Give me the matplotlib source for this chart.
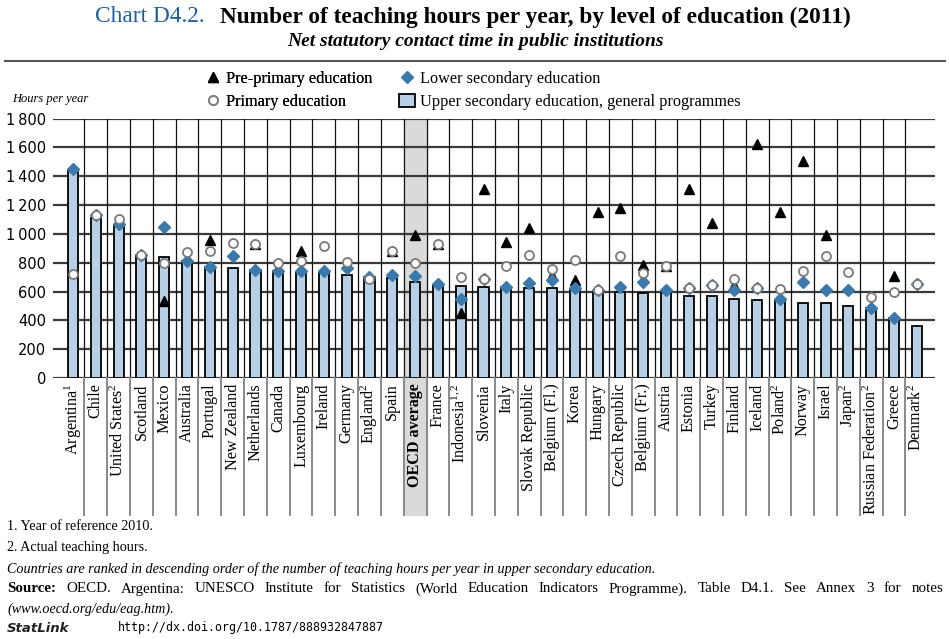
import numpy as np
import matplotlib
matplotlib.use("Agg")
import matplotlib.pyplot as plt
from matplotlib.lines import Line2D
from matplotlib.patches import Patch

plt.rcParams['font.family'] = ['Liberation Serif', 'DejaVu Serif']
plt.rcParams['mathtext.fontset'] = 'custom'
plt.rcParams['mathtext.rm'] = 'Liberation Serif'
plt.rcParams['mathtext.it'] = 'Liberation Serif:italic'
plt.rcParams['mathtext.bf'] = 'Liberation Serif:bold'

# data (hours per year)
countries = ['Argentina$^{\\mathrm{1}}$', 'Chile', 'United States$^{\\mathrm{2}}$', 'Scotland', 'Mexico',
             'Australia', 'Portugal', 'New Zealand', 'Netherlands', 'Canada', 'Luxembourg',
             'Ireland', 'Germany', 'England$^{\\mathrm{2}}$', 'Spain', 'OECD average', 'France',
             'Indonesia$^{\\mathrm{1,2}}$', 'Slovenia', 'Italy', 'Slovak Republic', 'Belgium (Fl.)',
             'Korea', 'Hungary', 'Czech Republic', 'Belgium (Fr.)', 'Austria', 'Estonia',
             'Turkey', 'Finland', 'Iceland', 'Poland$^{\\mathrm{2}}$', 'Norway', 'Israel',
             'Japan$^{\\mathrm{2}}$', 'Russian Federation$^{\\mathrm{2}}$', 'Greece', 'Denmark$^{\\mathrm{2}}$']
nan = np.nan
pre_primary = [nan, nan, nan, nan, 532, nan, 960, nan, 930, nan, 880, nan, nan, nan, 880, 995,
               930, 450, 1312, 947, 1044, 713, 680, 1152, 1183, 787, 780, 1314, 1076, 643,
               1627, 1150, 1506, 995, nan, nan, 706, nan]
primary = [724, 1129, 1100, 855, 800, 872, 882, 935, 930, 800, 812, 916, 805, 688, 880, 795,
           930, 698, 690, 775, 851, 759, 817, 614, 845, 728, 780, 623, 643, 690, 622, 620,
           745, 849, 736, 565, 594, 655]
lower_sec = [1452, 1129, 1068, 855, 1050, 812, 772, 848, 750, 745, 740, 740, 760, 700, 713, 711,
             652, 551, 690, 632, 659, 678, 625, 614, 632, 666, 613, 623, 643, 609, 622, 551,
             665, 611, 609, 486, 416, 655]
upper_sec = [1440, 1110, 1060, 855, 843, 810, 770, 760, 750, 744, 739, 735, 713, 704, 693, 664,
             648, 636, 633, 630, 626, 624, 616, 601, 597, 592, 589, 568, 567, 550, 544, 540,
             523, 521, 500, 483, 415, 364]
y_ticks = [0, 200, 400, 600, 800, 1000, 1200, 1400, 1600, 1800]
y_tick_labels = ['0', '200', '400', '600', '800', '1\u2009000', '1\u2009200', '1\u2009400',
                 '1\u2009600', '1\u2009800']

bar_col = '#b7d0e6'
dia_col = '#3b78ab'
n = len(countries)
x = np.arange(n)
oecd = 15

fig = plt.figure(figsize=(9.49, 6.39), dpi=100)
ax = fig.add_axes([53/949, 1-378/639, 882/949, 259.4/639])
ax.set_xlim(-0.88, 37.8)
ax.set_ylim(0, 1800)

below = -0.527
# shading for the OECD average column
ax.axvspan(oecd-0.5, oecd+0.5, ymin=below, ymax=1, color='#dadada', zorder=0, clip_on=False)

for yy in y_ticks:
    ax.axhline(yy, color='#3a3a3a', lw=1.6, zorder=1)
for i in range(n-1):
    ax.axvline(i+0.5, color='#111111', lw=0.9, zorder=1)
    ax.axvline(i+0.5, ymin=below, ymax=0, color='#8a8a8a', lw=1.4, zorder=1, clip_on=False)

ax.bar(x, upper_sec, width=0.44, color=bar_col, edgecolor='black', lw=1.3, zorder=2)
ax.plot(x, pre_primary, ls='none', marker='^', ms=7, color='black', zorder=3)
ax.plot(x, lower_sec, ls='none', marker='D', ms=6.5, color=dia_col, mec=dia_col, zorder=4)
ax.plot(x, primary, ls='none', marker='o', ms=6.5, mfc='white', mec='#7a7a7a', mew=1.3, zorder=5)

for s in ax.spines.values():
    s.set_visible(False)
ax.set_yticks(y_ticks)
ax.set_yticklabels(y_tick_labels, fontsize=10.5, family='DejaVu Sans')
ax.tick_params(axis='y', length=0, pad=5)
ax.set_xticks(x)
ax.set_xticklabels(countries, rotation=90, fontsize=11.6)
ax.tick_params(axis='x', length=0, pad=4)
ax.get_xticklabels()[oecd].set_fontweight('bold')

# titles
fig.text(95/949, 1-17/639, 'Chart D4.2.', color='#1f5f9e', fontsize=16.8, va='center')
fig.text(220/949, 1-17/639, 'Number of teaching hours per year, by level of education (2011)',
         fontsize=16.8, fontweight='bold', va='center')
fig.text(475/949, 1-42/639, 'Net statutory contact time in public institutions',
         fontsize=14, fontweight='bold', style='italic', ha='center', va='center')
fig.add_artist(Line2D([5/949, 945/949], [1-61/639, 1-61/639], color='#555555', lw=1.5))

# legend
h1 = [Line2D([], [], ls='none', marker='^', ms=7, color='black'),
      Line2D([], [], ls='none', marker='o', ms=6.5, mfc='white', mec='#7a7a7a', mew=1.3)]
h2 = [Line2D([], [], ls='none', marker='D', ms=6.5, color=dia_col),
      Patch(facecolor=bar_col, edgecolor='black', lw=1.3)]
leg1 = fig.legend(h1, ['Pre-primary education', 'Primary education'], loc='upper left',
                  bbox_to_anchor=(205/949, 1-71/639), frameon=False, fontsize=11.7,
                  handlelength=1.0, handletextpad=0.3, labelspacing=0.4, borderaxespad=0, borderpad=0)
leg2 = fig.legend(h2, ['Lower secondary education', 'Upper secondary education, general programmes'],
                  loc='upper left', bbox_to_anchor=(399/949, 1-71/639), frameon=False, fontsize=11.7,
                  handlelength=1.0, handleheight=0.9, handletextpad=0.3, labelspacing=0.4,
                  borderaxespad=0, borderpad=0)
fig.add_artist(leg1)
fig.text(12/949, 1-99/639, 'Hours per year', fontsize=9, style='italic', va='center')

# notes
fs = 10.2
fig.text(7/949, 1-527/639, '1. Year of reference 2010.', fontsize=fs, va='center')
fig.text(7/949, 1-548/639, '2. Actual teaching hours.', fontsize=fs, va='center')
fig.text(7/949, 1-569/639, 'Countries are ranked in descending order of the number of teaching hours '
         'per year in upper secondary education.', fontsize=fs, style='italic', va='center')

# justified source line
src_words = ('OECD. Argentina: UNESCO Institute for Statistics (World Education '
             'Indicators Programme). Table D4.1. See Annex 3 for notes').split()
renderer = fig.canvas.get_renderer()
pieces = [fig.text(0, 1-589/639, 'Source:', fontsize=10.8, fontweight='bold', va='center')]
for w in src_words:
    pieces.append(fig.text(0, 1-589/639, w, fontsize=10.8, va='center'))
widths = [p.get_window_extent(renderer).width for p in pieces]
x0, x1 = 7, 943
gap = (x1 - x0 - sum(widths)) / (len(pieces) - 1)
cur = x0
for p, w in zip(pieces, widths):
    p.set_x(cur/949)
    cur += w + gap

fig.text(7/949, 1-609/639, '(www.oecd.org/edu/eag.htm).', fontsize=fs, style='italic', va='center')
fig.text(7/949, 1-628/639, 'StatLink', fontsize=9.5, style='italic', fontweight='bold',
         family='DejaVu Sans', color='#222222', va='center')
fig.text(118/949, 1-628/639, 'http://dx.doi.org/10.1787/888932847887', fontsize=8.4,
         family='DejaVu Sans Mono', va='center')

fig.savefig('out.png', dpi=100)
